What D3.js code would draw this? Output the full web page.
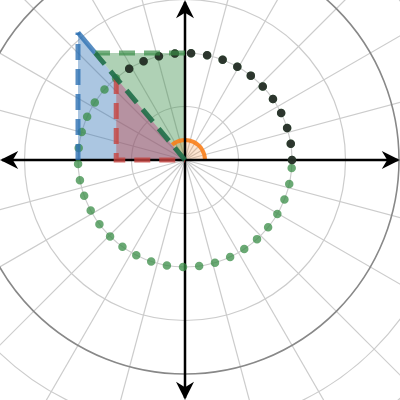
<!DOCTYPE html>
<html>
<head>
<meta charset="utf-8">
<script src="https://cdn.jsdelivr.net/npm/d3@7"></script>
<style>body{margin:0;background:#fff}svg{display:block}</style>
</head>
<body>
<svg id="chart" width="400" height="400"></svg>
<script>
// angle shown on the unit circle (degrees)
var thetaDeg = [130];
var gridRadii = [0.5, 1, 1.5, 2, 2.5, 3, 3.5];
var darkRadii = [2];
var spokeAngles = d3.range(0, 360, 15);

var th = thetaDeg[0] * Math.PI / 180
  , c = Math.cos(th), s = Math.sin(th);

var x = d3.scaleLinear().domain([0, 1]).range([185, 292]);
var y = d3.scaleLinear().domain([0, 1]).range([160, 53]);
var unit = x(1) - x(0);

var svg = d3.select("#chart");
var line = d3.line().x(function(d){ return x(d[0]); }).y(function(d){ return y(d[1]); });

// polar grid
svg.selectAll(".spoke").data(spokeAngles).enter().append("line")
  .attr("x1", x(0)).attr("y1", y(0))
  .attr("x2", function(a){ return x(5 * Math.cos(a * Math.PI / 180)); })
  .attr("y2", function(a){ return y(5 * Math.sin(a * Math.PI / 180)); })
  .attr("stroke", "#ccc").attr("stroke-width", 1.2);
svg.selectAll(".ring").data(gridRadii).enter().append("circle")
  .attr("cx", x(0)).attr("cy", y(0))
  .attr("r", function(r){ return r * unit; })
  .attr("fill", "none")
  .attr("stroke", function(r){ return darkRadii.indexOf(r) >= 0 ? "#888" : "#ccc"; })
  .attr("stroke-width", function(r){ return darkRadii.indexOf(r) >= 0 ? 1.6 : 1.2; });

// filled triangles
svg.append("path").attr("d", line([[0,0],[-1,0],[-1,s/-c*-1*-1*-1 * -1],[0,0]].map(function(p,i){ return i==2 ? [-1, -s/c] : p; })))
  .attr("fill", "#2d70b3").attr("fill-opacity", 0.4);
svg.append("path").attr("d", line([[0,0],[0,1],[c/s,1]]))
  .attr("fill", "#388c46").attr("fill-opacity", 0.4);
svg.append("path").attr("d", line([[0,0],[c,s],[c,0]]))
  .attr("fill", "#c74440").attr("fill-opacity", 0.4);

// orange angle sector
var arc = d3.arc().innerRadius(0).outerRadius(20).startAngle(Math.PI/2).endAngle(Math.PI/2 - th);
svg.append("path").attr("d", arc).attr("transform", "translate(" + x(0) + "," + y(0) + ")")
  .attr("fill", "#fa7e19").attr("fill-opacity", 0.2);
var arcLine = d3.arc().innerRadius(20).outerRadius(20).startAngle(Math.PI/2).endAngle(Math.PI/2 - th);
svg.append("path").attr("d", arcLine).attr("transform", "translate(" + x(0) + "," + y(0) + ")")
  .attr("fill", "none").attr("stroke", "#fa7e19").attr("stroke-width", 4).attr("stroke-opacity", 0.9);

// axes with arrows
var defs = svg.append("defs");
defs.append("marker").attr("id", "arr").attr("viewBox", "0 0 10 10").attr("refX", 9).attr("refY", 5)
  .attr("markerWidth", 9).attr("markerHeight", 8).attr("markerUnits", "userSpaceOnUse")
  .attr("orient", "auto").append("path").attr("d", "M0,0L10,5L0,10L3,5Z").attr("fill", "#000");
d3.select("#arr").attr("markerWidth", 28).attr("markerHeight", 18);
var axes = [[x(0), 10, x(0), 2], [x(0), 390, x(0), 398], [10, y(0), 2, y(0)], [390, y(0), 398, y(0)]];
svg.append("line").attr("x1", 10).attr("x2", 390).attr("y1", y(0)).attr("y2", y(0)).attr("stroke", "#000").attr("stroke-width", 2.5);
svg.append("line").attr("y1", 10).attr("y2", 390).attr("x1", x(0)).attr("x2", x(0)).attr("stroke", "#000").attr("stroke-width", 2.5);
axes.forEach(function(a){
  svg.append("line").attr("x1", a[0]).attr("y1", a[1]).attr("x2", a[2]).attr("y2", a[3])
    .attr("stroke", "#000").attr("stroke-width", 2.5).attr("marker-end", "url(#arr)");
});

// dotted unit circle, full in green, arc up to theta in black
var circlePts = d3.range(0, 361, 2).map(function(a){ var r = a * Math.PI / 180; return [Math.cos(r), Math.sin(r)]; });
svg.append("path").attr("d", line(circlePts)).attr("fill", "none")
  .attr("stroke", "#388c46").attr("stroke-opacity", 0.75).attr("stroke-width", 8.5)
  .attr("stroke-linecap", "round").attr("stroke-dasharray", "0 16.2");
var thetaPts = d3.range(0, thetaDeg[0] + 0.1, 1).map(function(a){ var r = a * Math.PI / 180; return [Math.cos(r), Math.sin(r)]; });
svg.append("path").attr("d", line(thetaPts)).attr("fill", "none")
  .attr("stroke", "#222").attr("stroke-opacity", 0.85).attr("stroke-width", 8.5)
  .attr("stroke-linecap", "round").attr("stroke-dasharray", "0 16.2");

// dashed edges
function dashed(pts, col, op){
  svg.append("path").attr("d", line(pts)).attr("fill", "none").attr("stroke", col)
    .attr("stroke-opacity", op).attr("stroke-width", 5).attr("stroke-dasharray", "16 9");
}
dashed([[-1, 0], [-1, -s/c]], "#2d70b3", 0.8);
svg.append("path").attr("d", line([[-1, -s/c], [c/s, 1]])).attr("stroke", "#2d70b3").attr("stroke-opacity", 0.8).attr("stroke-width", 5);
dashed([[c, s], [c, 0], [0, 0]], "#c74440", 0.8);
dashed([[0, 1], [c/s, 1]], "#388c46", 0.7);
dashed([[0, 0], [c/s, 1]], "#1f6e48", 0.9);
</script>
</body>
</html>
